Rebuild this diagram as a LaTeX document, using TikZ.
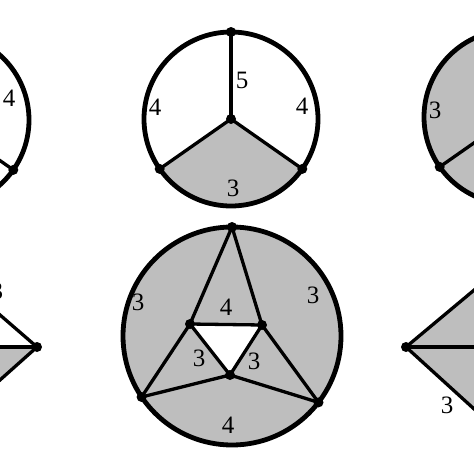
\documentclass[tikz,border=0pt]{standalone}
\usepackage{fontspec}
\setmainfont{Liberation Serif}
\definecolor{fillg}{RGB}{190,190,190}
\begin{document}
\begin{tikzpicture}[x=1pt,y=-1pt,
  dot/.style={circle,fill=black,inner sep=0pt,minimum size=10pt},
  rim/.style={line width=4.8pt},
  edge/.style={line width=3.3pt},
  lab/.style={font=\fontsize{25}{26}\selectfont, inner sep=0pt}]
\useasboundingbox (0,0) rectangle (474,474);
\clip (0,0) rectangle (474,474);

% ---------- top left (partial) ----------
\coordinate (c0) at (-58,120);
\coordinate (a1) at (13.3,169.9);
\draw[edge] (c0) -- (a1);
\draw[rim] (c0) circle[radius=87];
\node[dot] (na1) at (a1) {};
\node[lab] (la1) at (9,98) {4};

% ---------- top middle ----------
\coordinate (c1) at (231,119);
\coordinate (t1) at (231,32);
\coordinate (ll1) at (159.7,168.9);
\coordinate (lr1) at (302.3,168.9);
\fill[fillg] (c1) -- (lr1) arc[start angle=35,end angle=145,radius=87] -- cycle;
\draw[edge] (c1) -- (t1);
\draw[edge] (c1) -- (ll1);
\draw[edge] (c1) -- (lr1);
\draw[rim] (c1) circle[radius=87];
\node[dot] (nc1) at (c1) {};
\node[dot] (nt1) at (t1) {};
\node[dot] (nll1) at (ll1) {};
\node[dot] (nlr1) at (lr1) {};
\node[lab] (l5) at (242,80) {5};
\node[lab] (l4a) at (155,107) {4};
\node[lab] (l4b) at (302,106) {4};
\node[lab] (l3a) at (233,188) {3};

% ---------- top right (partial) ----------
\coordinate (c2) at (511,117);
\coordinate (b1) at (439.7,166.9);
\fill[fillg] (c2) circle[radius=87];
\draw[edge] (c2) -- (b1);
\draw[rim] (c2) circle[radius=87];
\node[dot] (nb1) at (b1) {};
\node[lab] (l3b) at (435,110) {3};

% ---------- bottom middle ----------
\coordinate (c3) at (232,336);
\coordinate (m1) at (232,227);
\coordinate (m2) at (141.6,397);
\coordinate (m3) at (318.5,402.4);
\coordinate (i1) at (190,324);
\coordinate (i2) at (262,325);
\coordinate (i3) at (230,375);
\fill[fillg] (c3) circle[radius=109];
\fill[white] (i1) -- (i2) -- (i3) -- cycle;
\draw[edge] (m1) -- (i1);
\draw[edge] (m1) -- (i2);
\draw[edge] (i1) -- (i2);
\draw[edge] (i1) -- (i3);
\draw[edge] (i2) -- (i3);
\draw[edge] (i1) -- (m2);
\draw[edge] (i2) -- (m3);
\draw[edge] (i3) -- (m2);
\draw[edge] (i3) -- (m3);
\draw[rim] (c3) circle[radius=109];
\node[dot] (nm1) at (m1) {};
\node[dot] (nm2) at (m2) {};
\node[dot] (nm3) at (m3) {};
\node[dot] (ni1) at (i1) {};
\node[dot] (ni2) at (i2) {};
\node[dot] (ni3) at (i3) {};
\node[lab] (q1) at (138,302) {3};
\node[lab] (q2) at (313,295) {3};
\node[lab] (q3) at (226,307) {4};
\node[lab] (q4) at (199,358) {3};
\node[lab] (q5) at (254,361) {3};
\node[lab] (q6) at (228,425) {4};

% ---------- bottom left (partial) ----------
\coordinate (d1) at (37,347);
\coordinate (e1) at (-60,263);
\coordinate (e2) at (-60,347);
\coordinate (e3) at (-60,433.5);
\fill[fillg] (d1) -- (e2) -- (e3) -- cycle;
\draw[edge] (d1) -- (e1);
\draw[edge] (d1) -- (e2);
\draw[edge] (d1) -- (e3);
\node[dot] (nd1) at (d1) {};
\node[lab] (r1) at (-3,291) {3};

% ---------- bottom right (partial) ----------
\coordinate (d2) at (406,347);
\coordinate (f1) at (540,235);
\coordinate (f2) at (540,347);
\coordinate (f3) at (540,469);
\fill[fillg] (d2) -- (f1) -- (f2) -- (f3) -- cycle;
\draw[edge] (d2) -- (f1);
\draw[edge] (d2) -- (f2);
\draw[edge] (d2) -- (f3);
\node[dot] (nd2) at (d2) {};
\node[lab] (r2) at (447,405) {3};
\end{tikzpicture}
\end{document}
